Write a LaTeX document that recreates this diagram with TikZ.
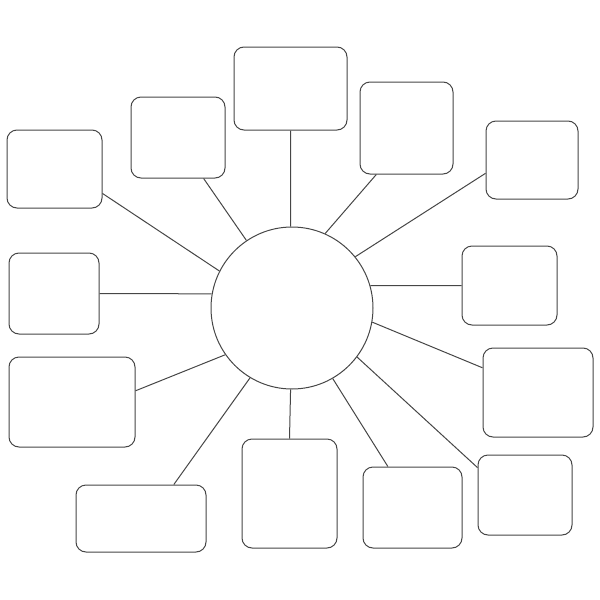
\documentclass[tikz,border=0pt]{standalone}
\usepackage{tikz}
\tikzset{>=stealth}
\definecolor{linegray}{RGB}{70,70,70}
\tikzstyle{block} = [rectangle, draw=linegray, line width=1pt, fill=white,
    rounded corners=10pt, inner sep=0pt]
\tikzstyle{hub} = [circle, draw=linegray, line width=1pt, fill=white,
    minimum size=162pt, inner sep=0pt]
\tikzstyle{spoke} = [draw=linegray, line width=1pt]

\begin{document}
\begin{tikzpicture}[x=1pt, y=-1pt]
  \useasboundingbox (0,0) rectangle (600,600);
  \node [hub] (n0) at (292,308) {};

  \node [block, minimum width=95pt, minimum height=78pt] (n1) at (54.5,169) {};
  \node [block, minimum width=94pt, minimum height=81pt] (n2) at (178,137.5) {};
  \node [block, minimum width=113pt, minimum height=83pt] (n3) at (290.5,88.5) {};
  \node [block, minimum width=93pt, minimum height=92pt] (n4) at (406.5,128) {};
  \node [block, minimum width=92pt, minimum height=78pt] (n5) at (532,160) {};
  \node [block, minimum width=90pt, minimum height=81pt] (n6) at (54,293.5) {};
  \node [block, minimum width=95pt, minimum height=79pt] (n7) at (509.5,285.5) {};
  \node [block, minimum width=126pt, minimum height=90pt] (n8) at (72,402) {};
  \node [block, minimum width=110pt, minimum height=89pt] (n9) at (538,392.5) {};
  \node [block, minimum width=130pt, minimum height=67pt] (n10) at (141,518.5) {};
  \node [block, minimum width=95pt, minimum height=109pt] (n11) at (289.5,493.5) {};
  \node [block, minimum width=99pt, minimum height=81pt] (n12) at (412.5,507.5) {};
  \node [block, minimum width=94pt, minimum height=80pt] (n13) at (525,495) {};

 \path[spoke] (n1.-27) edge (n0.153);
 \path[spoke] (n2.-58) edge (n0.124);
 \path[spoke] (n3.south) edge (n0.91);
 \path[spoke] (n4.-123) edge (n0.66);
 \path[spoke] (n5.196) edge (n0.39.5);
 \path[spoke] (n6.east) edge (n0.170);
 \path[spoke] (n7.west) edge (n0.16);
 \path[spoke] (n8.10) edge (n0.215);
 \path[spoke] (n9.156) edge (n0.-10.5);
 \path[spoke] (n10.46) edge (n0.239);
 \path[spoke] (n11.north) edge (n0.-91.5);
 \path[spoke] (n12.121) edge (n0.-60.3);
 \path[spoke] (n13.150) edge (n0.-37.6);
\end{tikzpicture}
\end{document}
